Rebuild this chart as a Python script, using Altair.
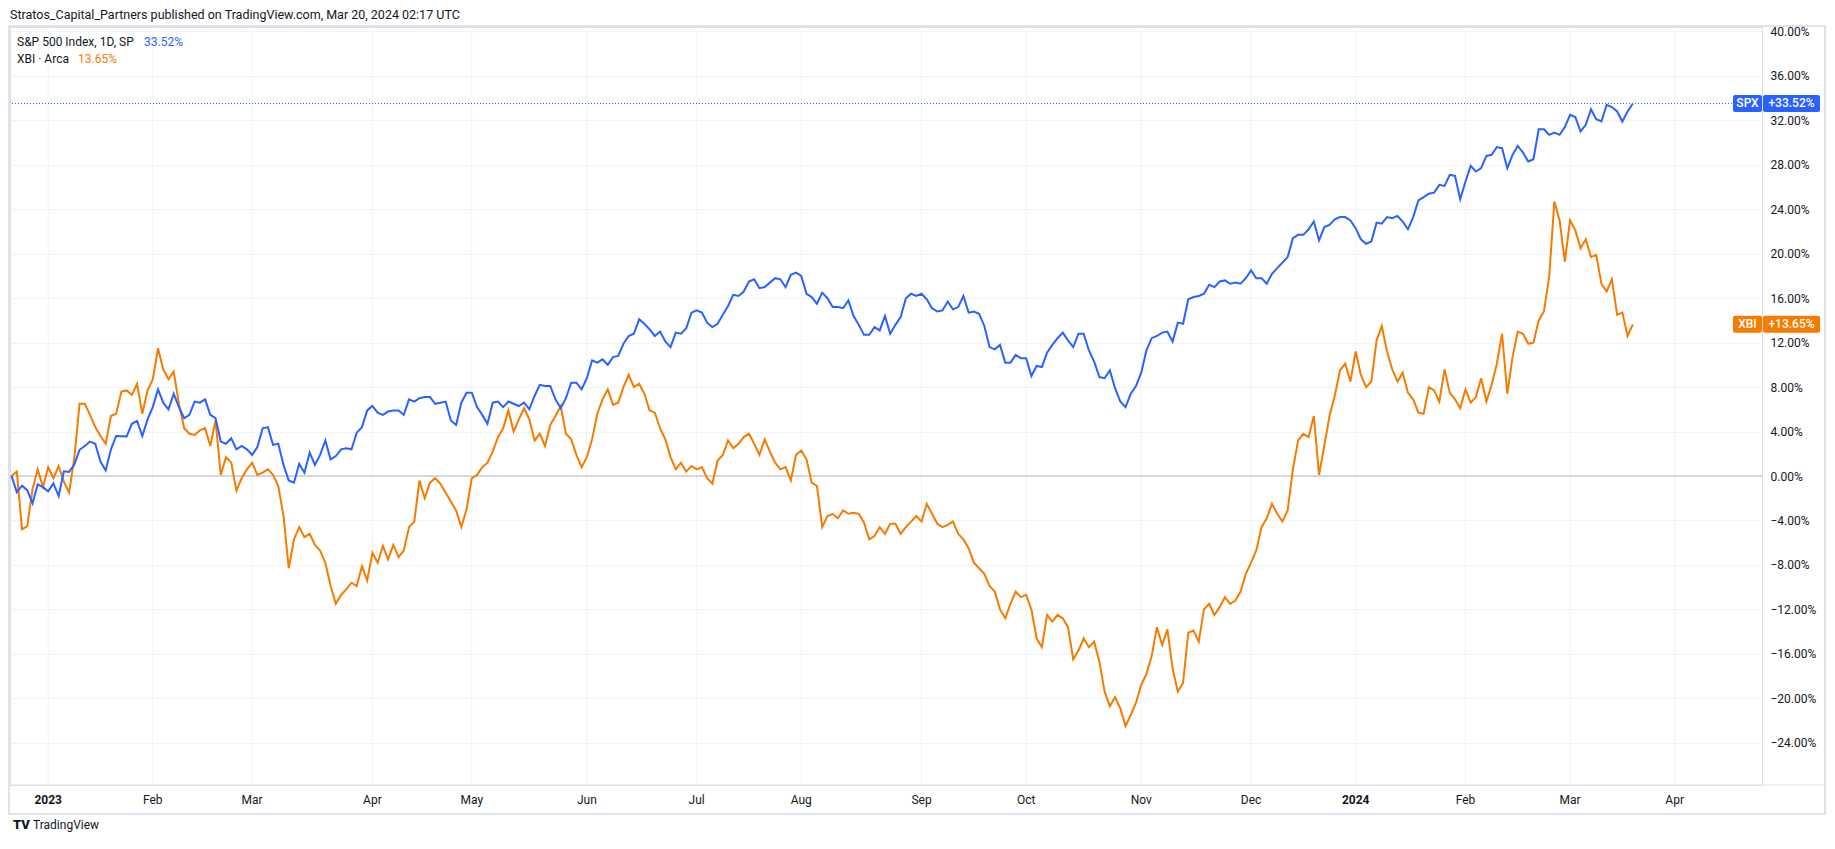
import altair as alt
import pandas as pd

FONT = "Roboto"
BLUE = "#2962ff"
ORANGE = "#f57c00"
TEXT = "#131722"
GRID = "#f0f3fa"
FRAME = "#e0e3eb"

HOLIDAYS = ["2022-12-26", "2023-01-02", "2023-01-16", "2023-02-20", "2023-04-07",
            "2023-05-29", "2023-06-19", "2023-07-04", "2023-09-04", "2023-11-23",
            "2023-12-25", "2024-01-01", "2024-01-15", "2024-02-19", "2024-03-29"]

# % change since 2022-12-21, one value per trading day
spx_pct = [
    0.00, -1.45, -0.87, -1.27, -2.46, -0.76, -1.00, -1.38, -0.66, -1.80,
    0.43, 0.37, 1.04, 2.36, 2.70, 3.10, 2.90, 1.30, 0.50, 2.40,
    3.60, 3.57, 3.55, 4.70, 4.96, 3.60, 5.10, 6.20, 7.80, 6.60,
    6.00, 7.40, 6.20, 5.20, 5.50, 6.70, 6.60, 6.90, 5.50, 5.20,
    3.10, 2.90, 3.40, 2.40, 2.70, 2.40, 1.90, 2.60, 4.30, 4.40,
    2.80, 2.90, 1.00, -0.40, -0.60, 1.10, 0.30, 2.10, 1.00, 1.90,
    3.20, 1.50, 1.80, 2.40, 2.50, 2.40, 3.90, 4.40, 5.90, 6.30,
    5.70, 5.50, 5.80, 5.90, 5.90, 5.50, 6.90, 6.70, 7.00, 7.10,
    7.10, 6.50, 6.60, 6.70, 5.00, 4.60, 6.60, 7.50, 7.50, 6.20,
    5.50, 4.70, 6.60, 6.70, 6.20, 6.70, 6.50, 6.30, 6.60, 6.00,
    7.20, 8.20, 8.10, 8.10, 6.90, 6.10, 7.00, 8.40, 8.40, 7.80,
    8.80, 10.40, 10.20, 10.50, 10.00, 10.70, 10.80, 11.90, 12.60, 12.80,
    14.10, 13.70, 13.20, 12.60, 13.00, 12.10, 11.60, 12.90, 12.80, 13.30,
    14.70, 14.90, 14.70, 13.80, 13.40, 13.70, 14.50, 15.30, 16.30, 16.20,
    16.60, 17.50, 17.70, 16.90, 17.00, 17.40, 17.80, 17.70, 17.00, 18.10,
    18.30, 18.00, 16.40, 16.10, 15.50, 16.50, 16.00, 15.20, 15.20, 15.10,
    15.80, 14.40, 13.60, 12.70, 12.70, 13.40, 13.10, 14.40, 12.80, 13.60,
    14.30, 16.00, 16.40, 16.20, 16.40, 15.90, 15.10, 14.80, 14.90, 15.70,
    15.00, 15.20, 16.20, 14.70, 14.80, 14.60, 13.50, 11.60, 11.40, 11.80,
    10.20, 10.20, 10.90, 10.60, 10.60, 9.00, 9.90, 9.80, 11.10, 11.80,
    12.40, 12.90, 12.20, 11.60, 12.80, 12.80, 11.30, 10.30, 8.90, 8.80,
    9.50, 7.90, 6.70, 6.20, 7.40, 8.10, 9.30, 11.30, 12.40, 12.60,
    12.90, 13.00, 12.10, 13.80, 13.70, 15.90, 16.10, 16.20, 16.40, 17.20,
    17.00, 17.50, 17.60, 17.30, 17.40, 17.30, 17.80, 18.50, 17.80, 17.80,
    17.30, 18.20, 18.70, 19.20, 19.70, 21.40, 21.70, 21.70, 22.20, 22.90,
    21.20, 22.40, 22.60, 23.10, 23.30, 23.30, 23.00, 22.30, 21.30, 20.90,
    21.10, 22.80, 22.70, 23.30, 23.20, 23.40, 22.90, 22.20, 23.30, 24.80,
    25.10, 25.40, 25.50, 26.20, 26.10, 27.10, 27.00, 24.90, 26.50, 27.90,
    27.40, 27.70, 28.80, 28.90, 29.60, 29.50, 27.70, 28.90, 29.70, 29.10,
    28.30, 28.50, 31.20, 31.20, 30.70, 30.90, 30.70, 31.40, 32.50, 32.30,
    31.00, 31.60, 33.00, 32.10, 31.90, 33.40, 33.20, 32.80, 31.90, 32.80,
    33.52,
]

xbi_pct = [
    0.0, 0.4, -4.8, -4.5, -1.2, 0.6, -1.0, 0.8, -0.2, 0.9,
    -0.5, -1.5, 1.6, 6.5, 6.5, 5.5, 4.4, 3.6, 2.9, 5.4,
    5.6, 7.6, 7.7, 7.3, 8.3, 5.6, 7.7, 8.7, 11.5, 9.6,
    8.7, 9.4, 6.5, 4.3, 3.8, 3.7, 4.1, 4.3, 2.7, 5.0,
    0.1, 1.7, 1.2, -1.3, -0.2, 0.6, 1.2, 0.1, 0.3, 0.6,
    0.1, -0.9, -3.6, -8.3, -5.7, -4.6, -5.5, -5.2, -6.2, -6.7,
    -7.8, -9.9, -11.5, -10.7, -10.2, -9.6, -9.9, -8.1, -9.4, -6.9,
    -7.8, -6.3, -7.5, -6.2, -7.3, -6.7, -4.6, -4.1, -0.4, -2.0,
    -0.6, -0.2, -0.7, -1.5, -2.3, -3.1, -4.6, -3.0, -0.2, 0.1,
    0.8, 1.2, 2.2, 3.5, 4.3, 5.9, 4.0, 5.1, 6.1, 5.1,
    3.2, 3.8, 2.7, 4.6, 5.4, 6.3, 3.8, 3.3, 1.9, 0.8,
    1.7, 3.3, 5.6, 6.9, 7.8, 6.4, 6.6, 8.0, 9.1, 8.0,
    8.3, 7.4, 5.9, 5.7, 4.3, 3.3, 1.7, 0.6, 1.2, 0.4,
    0.9, 0.6, 0.8, -0.2, -0.7, 1.4, 1.9, 3.2, 2.5, 2.9,
    3.5, 3.8, 2.9, 1.9, 3.3, 2.2, 1.2, 0.6, 0.8, -0.4,
    1.9, 2.3, 1.5, -0.6, -0.9, -4.6, -3.6, -3.4, -3.8, -3.1,
    -3.4, -3.3, -3.4, -4.2, -5.7, -5.4, -4.6, -5.2, -4.3, -4.3,
    -5.2, -4.6, -4.1, -3.6, -4.1, -2.5, -3.4, -4.3, -4.6, -4.4,
    -4.1, -5.2, -5.7, -6.5, -7.8, -8.3, -8.8, -9.9, -10.4, -12.0,
    -12.8, -11.5, -10.4, -10.9, -10.7, -12.0, -14.6, -15.4, -12.5, -13.1,
    -12.5, -12.8, -13.6, -16.5, -15.7, -14.6, -15.4, -14.9, -16.7, -19.4,
    -20.7, -19.9, -20.9, -22.5, -21.5, -20.4, -18.8, -17.8, -16.2, -13.6,
    -15.2, -13.8, -17.3, -19.4, -18.6, -14.1, -13.9, -14.9, -12.0, -11.5,
    -12.5, -11.8, -10.9, -11.5, -11.2, -10.4, -8.8, -7.8, -6.7, -4.6,
    -3.8, -2.5, -3.4, -4.1, -3.1, 0.6, 3.2, 3.8, 3.5, 5.4,
    0.1, 2.7, 5.4, 7.2, 9.5, 10.1, 8.5, 11.2, 9.1, 8.0,
    8.5, 12.2, 13.5, 11.2, 9.6, 8.5, 9.3, 7.5, 6.9, 5.7,
    5.6, 8.0, 7.7, 6.7, 9.6, 7.5, 6.9, 6.1, 7.8, 6.6,
    7.1, 8.8, 6.7, 8.2, 10.1, 12.8, 7.4, 10.7, 13.0, 12.8,
    11.9, 12.0, 14.0, 14.8, 17.9, 24.7, 23.0, 19.3, 23.0, 22.1,
    20.5, 21.3, 19.7, 19.9, 17.3, 16.6, 17.7, 14.5, 14.7, 12.6,
    13.65,
]

header_text = "Stratos_Capital_Partners published on TradingView.com, Mar 20, 2024 02:17 UTC"
spx_name = "S&P 500 Index, 1D, SP"
xbi_name = "XBI \u00b7 Arca"
symbols = ["SPX", "XBI"]
month_periods = ["2023-01", "2023-02", "2023-03", "2023-04", "2023-05", "2023-06",
                 "2023-07", "2023-08", "2023-09", "2023-10", "2023-11", "2023-12",
                 "2024-01", "2024-02", "2024-03", "2024-04"]
y_ticks = list(range(-24, 41, 4))

# ---------------------------------------------------------------- tables
days = pd.bdate_range("2022-12-21", "2024-04-30", freq="C", holidays=HOLIDAYS)
n = min(len(spx_pct), len(xbi_pct))
spx_df = pd.DataFrame({"bar": range(n), "date": days[:n].strftime("%Y-%m-%d"), "pct": spx_pct[:n]})
xbi_df = pd.DataFrame({"bar": range(n), "date": days[:n].strftime("%Y-%m-%d"), "pct": xbi_pct[:n]})

per = days.to_period("M").astype(str)
mrows = []
for m in month_periods:
    idx = int((per == m).argmax())
    d = days[idx]
    lab = str(d.year) if d.month == 1 else d.strftime("%b")
    mrows.append({"bar": idx, "label": lab, "year": d.month == 1})
months_df = pd.DataFrame(mrows)

last_spx = spx_pct[n - 1]
last_xbi = xbi_pct[n - 1]
tags_df = pd.DataFrame({"series": symbols, "value": [last_spx, last_xbi],
                        "vtext": [f"+{last_spx:.2f}%", f"+{last_xbi:.2f}%"]})

W, H = 1752, 758
XDOM = [-0.3, 334.7]
YDOM = [-27.8, 40.4]
HALF = 8.5 * (YDOM[1] - YDOM[0]) / H
FR_L, FR_R, FR_T, FR_B = -1, 1815, -1, 787

xs = alt.Scale(domain=XDOM, nice=False, zero=False)
ys = alt.Scale(domain=YDOM, nice=False, zero=False)
cs = alt.Scale(domain=symbols, range=[BLUE, ORANGE])
yaxis = alt.Axis(orient="right", values=y_ticks,
                 labelExpr="format(datum.value, '.2f') + '%'",
                 grid=True, gridColor=GRID, gridWidth=1, domain=False,
                 ticks=False, labelPadding=8, labelFontSize=12, labelColor=TEXT, labelFont=FONT,
                 labelAlign="left", labelBaseline="middle", title=None)
X = alt.X("bar:Q", scale=xs, axis=None)
one = pd.DataFrame({"v": [0]})

vgrid = alt.Chart(months_df).mark_rule(color=GRID, strokeWidth=1).encode(
    x=X, y=alt.value(0), y2=alt.value(H))

zero = alt.Chart(one).mark_rule(color="#b2b5be", strokeWidth=1).encode(
    y=alt.Y("v:Q", scale=ys, axis=yaxis))

def hrule(y, x1, x2, color, width):
    return alt.Chart(one).mark_rule(color=color, strokeWidth=width).encode(
        x=alt.value(x1), x2=alt.value(x2), y=alt.value(y))

def vrule(x, y1, y2, color, width):
    return alt.Chart(one).mark_rule(color=color, strokeWidth=width).encode(
        x=alt.value(x), y=alt.value(y1), y2=alt.value(y2))

bottom_sep = hrule(H, FR_L, FR_R, FRAME, 1)
frame_top = hrule(FR_T, FR_L - 1, FR_R + 1, FRAME, 2)
frame_bot = hrule(FR_B, FR_L - 1, FR_R + 1, FRAME, 2)
frame_left = vrule(FR_L, FR_T, FR_B, FRAME, 2)
frame_right = vrule(FR_R, FR_T, FR_B, FRAME, 2)

xbi_line = alt.Chart(xbi_df).mark_line(color=ORANGE, strokeWidth=2).encode(
    x=X, y=alt.Y("pct:Q", scale=ys, axis=yaxis))
spx_line = alt.Chart(spx_df).mark_line(color=BLUE, strokeWidth=2).encode(
    x=X, y=alt.Y("pct:Q", scale=ys, axis=yaxis))

dotted = alt.Chart(tags_df[tags_df.series == "SPX"]).mark_rule(
    color=BLUE, strokeWidth=1, strokeDash=[1, 2]).encode(
    y=alt.Y("value:Q", scale=ys, axis=yaxis))

tag_base = alt.Chart(tags_df).transform_calculate(
    lo=f"datum.value - {HALF}", hi=f"datum.value + {HALF}")
tag_name_box = tag_base.mark_rect(cornerRadius=2).encode(
    x=alt.value(1723), x2=alt.value(1752),
    y=alt.Y("lo:Q", scale=ys, axis=yaxis), y2="hi:Q",
    color=alt.Color("series:N", scale=cs, legend=None))
tag_val_box = tag_base.mark_rect(cornerRadius=2).encode(
    x=alt.value(1753), x2=alt.value(1810),
    y=alt.Y("lo:Q", scale=ys, axis=yaxis), y2="hi:Q",
    color=alt.Color("series:N", scale=cs, legend=None))
tag_name_txt = alt.Chart(tags_df).mark_text(
    color="white", fontSize=12, fontWeight=500, font=FONT, align="center", baseline="middle").encode(
    x=alt.value(1737.5), y=alt.Y("value:Q", scale=ys, axis=yaxis), text="series:N")
tag_val_txt = alt.Chart(tags_df).mark_text(
    color="white", fontSize=12, fontWeight=500, font=FONT, align="center", baseline="middle").encode(
    x=alt.value(1781.5), y=alt.Y("value:Q", scale=ys, axis=yaxis), text="vtext:N")

def label(txt, x, y, color=TEXT, size=12, weight="normal", align="left"):
    return alt.Chart(pd.DataFrame({"t": [txt]})).mark_text(
        color=color, fontSize=size, fontWeight=weight, font=FONT, align=align,
        baseline="middle").encode(x=alt.value(x), y=alt.value(y), text="t:N")

header = label(header_text, 0, -12, size=12.5)
leg1 = label(spx_name, 7, 15)
leg1v = label(f"{last_spx:.2f}%", 134, 15, color=BLUE)
leg2 = label(xbi_name, 7, 32)
leg2v = label(f"{last_xbi:.2f}%", 68, 32, color=ORANGE)
logo_icon = label("TV", 3, 798, size=13, weight=900)
logo_txt = label("TradingView", 23, 798, size=12)

month_txt = alt.Chart(months_df[~months_df.year]).mark_text(
    color=TEXT, fontSize=12, font=FONT, align="center", baseline="middle").encode(
    x=X, y=alt.value(773), text="label:N")
year_txt = alt.Chart(months_df[months_df.year]).mark_text(
    color=TEXT, fontSize=12, font=FONT, fontWeight="bold", align="center", baseline="middle").encode(
    x=X, y=alt.value(773), text="label:N")

chart = alt.layer(
    vgrid, zero, bottom_sep, xbi_line, spx_line, dotted,
    tag_name_box, tag_val_box, tag_name_txt, tag_val_txt,
    header, leg1, leg1v, leg2, leg2v, logo_icon, logo_txt,
    month_txt, year_txt, frame_top, frame_bot, frame_left, frame_right,
).properties(
    width=W, height=H,
    autosize=alt.AutoSizeParams(type="none"),
    padding={"left": 2, "top": 19, "right": 65, "bottom": 50},
).configure_view(stroke="transparent", strokeWidth=0).configure(font=FONT, background="white")

chart.save("out.html", embed_options={"renderer": "svg", "actions": False})
